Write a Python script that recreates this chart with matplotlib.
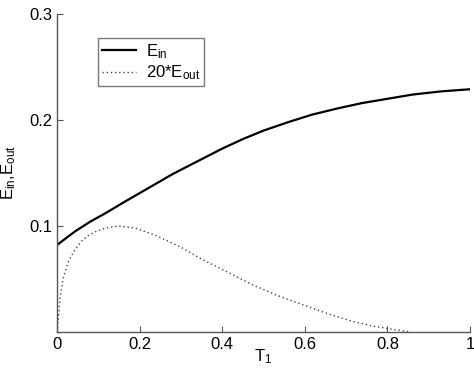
import matplotlib
matplotlib.use('Agg')
import matplotlib.pyplot as plt

# values
t_in = [0.0, 0.01, 0.02, 0.044, 0.08, 0.117, 0.16, 0.2, 0.24, 0.28, 0.32,
        0.36, 0.40, 0.45, 0.50, 0.56, 0.617, 0.68, 0.739, 0.80, 0.861, 0.93, 1.0]
e_in = [0.082, 0.085, 0.088, 0.095, 0.104, 0.112, 0.122, 0.131, 0.140, 0.149,
        0.157, 0.165, 0.173, 0.182, 0.190, 0.198, 0.205, 0.211, 0.216, 0.220,
        0.224, 0.227, 0.229]

t_out = [0.0, 0.001, 0.003, 0.007, 0.015, 0.028, 0.044, 0.06, 0.076, 0.095,
         0.117, 0.149, 0.19, 0.24, 0.30, 0.349, 0.40, 0.471, 0.53, 0.593, 0.65,
         0.715, 0.76, 0.805, 0.856]
e_out20 = [0.0, 0.004, 0.011, 0.031, 0.051, 0.067, 0.078, 0.086, 0.091, 0.095,
           0.098, 0.100, 0.098, 0.091, 0.080, 0.069, 0.059, 0.045, 0.035, 0.026,
           0.018, 0.010, 0.006, 0.003, 0.0]

x_ticks = [0, 0.2, 0.4, 0.6, 0.8, 1]
x_labels = ['0', '0.2', '0.4', '0.6', '0.8', '1']
y_ticks = [0.1, 0.2, 0.3]
y_labels = ['0.1', '0.2', '0.3']

plt.rcParams['font.family'] = ['Liberation Sans', 'DejaVu Sans']
plt.rcParams['mathtext.fontset'] = 'custom'
plt.rcParams['mathtext.rm'] = 'Liberation Sans'
plt.rcParams['mathtext.it'] = 'Liberation Sans'

fig = plt.figure(figsize=(4.74, 3.70), dpi=100)
ax = fig.add_axes([57 / 474, 38 / 370, 413 / 474, 318 / 370])

ax.plot(t_in, e_in, color='black', lw=1.6, label=r'E$_{\mathregular{in}}$')
ax.plot(t_out, e_out20, color='#444444', lw=1.0, linestyle=(0, (1, 2)),
        label=r'20*E$_{\mathregular{out}}$')

ax.set_xlim(0, 1)
ax.set_ylim(0, 0.3)
ax.set_xticks(x_ticks)
ax.set_xticklabels(x_labels)
ax.set_yticks(y_ticks)
ax.set_yticklabels(y_labels)

for side in ['top', 'right']:
    ax.spines[side].set_visible(False)
for side in ['left', 'bottom']:
    ax.spines[side].set_color('#555555')
    ax.spines[side].set_linewidth(1.0)
ax.tick_params(direction='in', length=4, color='#555555', labelsize=12)

ax.set_xlabel(r'T$_{\mathregular{1}}$', fontsize=12, labelpad=-3)
ax.set_ylabel(r'E$_{\mathregular{in}}$,E$_{\mathregular{out}}$', fontsize=12, labelpad=8)

leg = ax.legend(loc='upper left', bbox_to_anchor=(98 / 474, 1 - 38 / 370),
                bbox_transform=fig.transFigure, fontsize=12, fancybox=False,
                handlelength=2.0, borderpad=0.25, labelspacing=0.15,
                handletextpad=0.6, borderaxespad=0)
leg.get_frame().set_edgecolor('#555555')
leg.get_frame().set_linewidth(1.0)

fig.savefig('out.png', dpi=100)
